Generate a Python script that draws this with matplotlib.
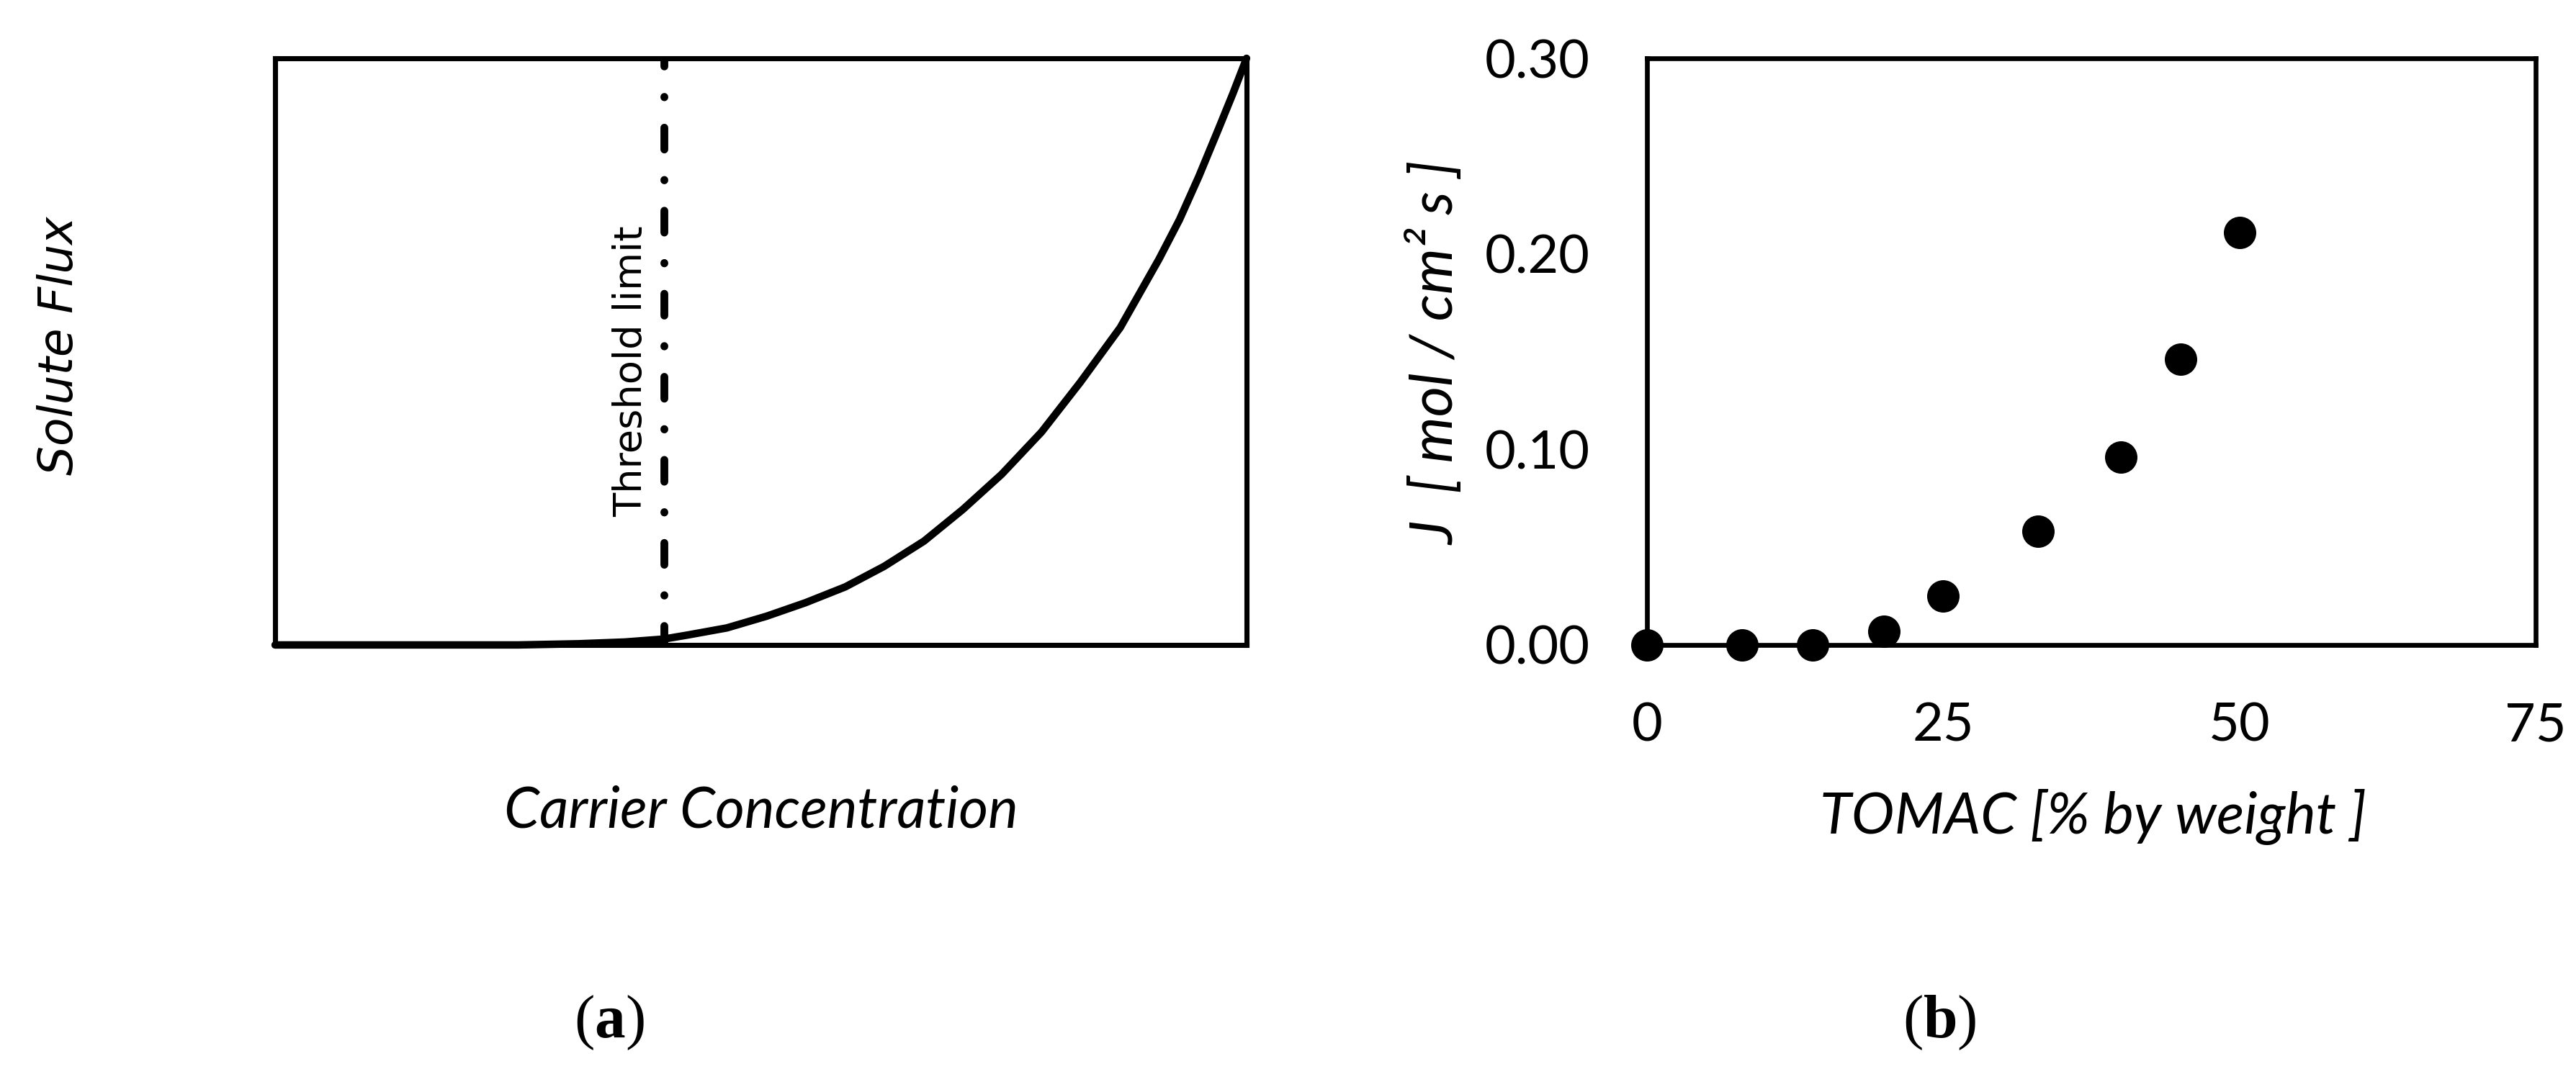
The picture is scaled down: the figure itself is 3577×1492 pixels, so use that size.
import matplotlib
matplotlib.use("Agg")
import matplotlib.pyplot as plt

# (a) schematic: solute flux vs carrier concentration (normalised units)
carrier_conc = [0.0, 0.25, 0.312, 0.36, 0.400, 0.425, 0.465, 0.506, 0.546, 0.587,
                0.627, 0.668, 0.708, 0.748, 0.789, 0.829, 0.870, 0.910, 0.931,
                0.951, 0.971, 0.986, 1.0]
solute_flux = [0.0, 0.0, 0.002, 0.005, 0.010, 0.017, 0.029, 0.049, 0.072, 0.099,
               0.134, 0.177, 0.231, 0.291, 0.363, 0.448, 0.541, 0.658, 0.725,
               0.799, 0.879, 0.94, 1.0]
threshold = 0.4

# (b) measured flux vs TOMAC content
tomac_pct = [0, 8, 14, 20, 25, 33, 40, 45, 50]
flux_j = [0.0, 0.0, 0.0, 0.007, 0.025, 0.058, 0.096, 0.146, 0.211]
x_ticks = [0, 25, 50, 75]
y_ticks = [0.00, 0.10, 0.20, 0.30]

plt.rcParams["mathtext.fontset"] = "custom"
plt.rcParams["mathtext.rm"] = "Liberation Serif"
plt.rcParams["mathtext.bf"] = "Liberation Serif:bold"

W, H = 3577, 1492
fig = plt.figure(figsize=(W / 300, H / 300), dpi=300)
renderer = fig.canvas.get_renderer()


def fit_length(txt, target_px, vertical=False):
    # scale font so the label spans the same number of pixels as the original
    bb = txt.get_window_extent(renderer)
    cur = bb.height if vertical else bb.width
    txt.set_fontsize(txt.get_fontsize() * target_px / cur)


ax_a = fig.add_axes([0.1068, 0.3995, 0.3771, 0.5462])
ax_b = fig.add_axes([0.6394, 0.3995, 0.3450, 0.5462])

# ---- panel (a)
ax_a.plot(carrier_conc, solute_flux, color="black", lw=2.5, clip_on=False,
          solid_capstyle="round", solid_joinstyle="round")
# drawn top-down so the dash pattern starts at the upper frame
ax_a.plot([threshold, threshold], [1, 0], color="black", lw=2.6,
          linestyle=(1.8, (2.8, 3.9, 0.05, 3.9)), dash_capstyle="round")
thr = ax_a.text(0.366, 0.467, "Threshold limit", transform=ax_a.transAxes,
                rotation=90, ha="center", va="center", fontsize=13,
                family="DejaVu Sans")
fit_length(thr, 405, vertical=True)
ax_a.set_xlim(0, 1)
ax_a.set_ylim(0, 1)
ax_a.set_xticks([])
ax_a.set_yticks([])
for sp in ax_a.spines.values():
    sp.set_linewidth(1.7)

ax_a.set_xlabel("Carrier Concentration", fontsize=18, family="Lato",
                style="italic")
ax_a.xaxis.set_label_coords(0.2955, 0.2446, transform=fig.transFigure)
ax_a.xaxis.label.set_va("center")
fit_length(ax_a.xaxis.label, 714)
ax_a.set_ylabel("Solute Flux", fontsize=15.5, family="DejaVu Sans",
                style="italic")
ax_a.yaxis.set_label_coords(0.0232, 0.678, transform=fig.transFigure)
ax_a.yaxis.label.set_va("center")
fit_length(ax_a.yaxis.label, 360, vertical=True)

# ---- panel (b)
ax_b.plot(tomac_pct, flux_j, "o", color="black", ms=9.8, clip_on=False,
          zorder=3)
ax_b.set_xlim(0, 75)
ax_b.set_ylim(0, 0.30)
ax_b.set_xticks(x_ticks)
ax_b.set_yticks(y_ticks)
ax_b.set_yticklabels([f"{v:.2f}" for v in y_ticks])
ax_b.tick_params(length=0, pad=19, labelsize=17.7)
for lab in ax_b.get_xticklabels() + ax_b.get_yticklabels():
    lab.set_family("Lato")
for sp in ax_b.spines.values():
    sp.set_linewidth(1.6)

ax_b.set_xlabel("TOMAC [% by weight ]", fontsize=18, family="Lato",
                style="italic")
ax_b.xaxis.set_label_coords(0.8127, 0.2393, transform=fig.transFigure)
ax_b.xaxis.label.set_va("center")
fit_length(ax_b.xaxis.label, 760)
ax_b.set_ylabel("J  [ mol / cm² s ]", fontsize=18, family="Lato",
                style="italic")
ax_b.yaxis.set_label_coords(0.5572, 0.6716, transform=fig.transFigure)
ax_b.yaxis.label.set_va("center")
fit_length(ax_b.yaxis.label, 533, vertical=True)

# panel letters
fig.text(0.2365, 0.0476, r"($\mathbf{a}$)", ha="center", va="center",
         fontsize=20.5, family="Liberation Serif")
fig.text(0.7529, 0.0476, r"($\mathbf{b}$)", ha="center", va="center",
         fontsize=20.5, family="Liberation Serif")

fig.savefig("out.png", dpi=300, facecolor="white")
